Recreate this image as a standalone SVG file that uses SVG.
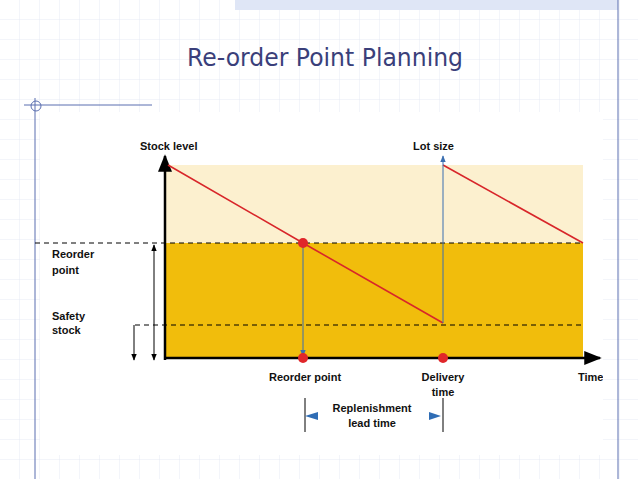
<svg xmlns="http://www.w3.org/2000/svg" width="638" height="479" viewBox="0 0 638 479">
<defs>
<pattern id="grid" width="20" height="20" patternUnits="userSpaceOnUse"><path d="M20 0V20H0" fill="none" stroke="#e6eaf4" stroke-width="1"/></pattern>
<marker id="ab" viewBox="0 0 10 10" refX="9" refY="5" markerWidth="7" markerHeight="7" orient="auto-start-reverse"><path d="M0 1L10 5L0 9z" fill="#000"/></marker>
<marker id="abl" viewBox="0 0 10 10" refX="9" refY="5" markerWidth="7" markerHeight="7" orient="auto-start-reverse"><path d="M0 1L10 5L0 9z" fill="#3b6fb0"/></marker>
<clipPath id="box"><rect x="40" y="112" width="563" height="343"/></clipPath>
</defs>
<style>
text{font-family:"Liberation Sans",Arial,sans-serif;font-weight:bold;font-size:11px;fill:#111}
.m{text-anchor:middle}
.dash{stroke:#000;stroke-dasharray:5,4;stroke-width:1}
.red{stroke:#d8262a;stroke-width:1.6;fill:none}
</style>
<rect width="638" height="479" fill="#fff"/>
<rect width="638" height="479" fill="url(#grid)"/>
<rect x="235" y="0" width="383" height="10" fill="#dfe6f6"/>
<line x1="618" y1="0" x2="618" y2="479" stroke="#5b6fb0"/>
<line x1="24" y1="105" x2="152" y2="105" stroke="#5b6fb0"/>
<line x1="35" y1="98" x2="35" y2="479" stroke="#5b6fb0"/>
<circle cx="36" cy="106" r="5" fill="none" stroke="#5b6fb0"/>
<rect x="40" y="112" width="563" height="343" fill="#fff"/>
<text x="325" y="66" class="m" textLength="276" lengthAdjust="spacingAndGlyphs" style="font-family:'DejaVu Sans',sans-serif;font-weight:normal;font-size:24px;fill:#3a3f7a">Re-order Point Planning</text>
<g id="chart">
<rect x="165" y="165" width="418" height="78" fill="#fcf0cf"/>
<rect x="165" y="243" width="418" height="115" fill="#f1bd0c"/>
</g>
<g id="connectors">
<line class="dash" x1="35" y1="243" x2="583" y2="243"/>
<line class="dash" x1="135" y1="325" x2="583" y2="325"/>
<line x1="154" y1="245" x2="154" y2="360" stroke="#000" marker-start="url(#ab)" marker-end="url(#ab)"/>
<line x1="134" y1="325" x2="134" y2="360" stroke="#000" marker-end="url(#ab)"/>
<line x1="165" y1="360" x2="165" y2="156" stroke="#000" stroke-width="2.5" marker-end="url(#ab)"/>
<line x1="164" y1="358" x2="600" y2="358" stroke="#000" stroke-width="2.5" marker-end="url(#ab)"/>
<polyline class="red" points="168,165 303,243 443,323"/>
<line class="red" x1="443" y1="165" x2="583" y2="243"/>
<line x1="303" y1="243" x2="303" y2="356" stroke="#3b6fb0" marker-end="url(#abl)"/>
<line x1="443" y1="323" x2="443" y2="156" stroke="#3b6fb0" marker-end="url(#abl)"/>
<line x1="305" y1="398" x2="305" y2="432" stroke="#000"/>
<line x1="443" y1="398" x2="443" y2="432" stroke="#000"/>
<path d="M305 416L318 412L318 420z" fill="#2f6db5"/>
<path d="M441 416L429 412L429 420z" fill="#2f6db5"/>
</g>
<g id="points" fill="#e0262a">
<circle cx="303" cy="243" r="5"/><circle cx="303" cy="358" r="5"/><circle cx="443" cy="358" r="5"/>
</g>
<g id="labels">
<text x="140" y="150">Stock level</text>
<text x="413" y="150">Lot size</text>
<text x="52" y="258">Reorder</text><text x="52" y="274">point</text>
<text x="52" y="320">Safety</text><text x="52" y="334">stock</text>
<text x="305" y="381" class="m">Reorder point</text>
<text x="443" y="381" class="m">Delivery</text><text x="443" y="396" class="m">time</text>
<text x="578" y="381" clip-path="url(#box)">Time</text>
<text x="372" y="412" class="m">Replenishment</text><text x="372" y="427" class="m">lead time</text>
</g>
</svg>
